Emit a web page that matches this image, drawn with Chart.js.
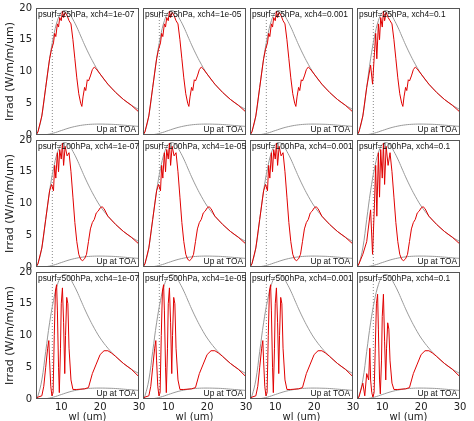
<!DOCTYPE html>
<html><head><meta charset="utf-8">
<script src="https://cdn.jsdelivr.net/npm/chart.js@4"></script>
<style>body{margin:0;background:#fff;width:474px;height:421px;position:relative;overflow:hidden}canvas{position:absolute}</style>
</head><body>
<script>
const pressures = ["25hPa","100hPa","500hPa"];
const xch4 = ["1e-07","1e-05","0.001","0.1"];
const xTicks = [10,20,30];
const yTicks = [0,5,10,15,20];
const cutoffWl = 7.7;
const surfX = [3.5,4,5,6,7,8,9,10,11,12,13,14,15,16,17,18,19,20,22,24,26,28,30];
const surfY = [0,0.5,3,7.5,12,15.5,18,19.3,19.6,19.2,18.2,17,15.6,14.2,12.9,11.7,10.6,9.6,8,6.7,5.6,4.7,4.0];
const toaX = [3.5,6,8,10,12,14,16,18,20,22,24,26,28,30];
const toaY = [0,0.05,0.3,0.7,1.1,1.4,1.6,1.7,1.72,1.7,1.65,1.55,1.45,1.35];
const r1X = [3.5,4,5,6,7,7.5,8,8.3,8.6,9,9.3,9.6,10,10.3,10.6,11,11.5,12,12.5,13,13.5,14,14.5,15,15.3,15.6,16,16.3,16.7,17,17.5,18,18.5,19,20,22,24,26,28,30];
const r1Y = [0,0.5,3,7.5,12,13.5,14.5,16,15.5,17.5,17,18.5,18,19.5,18.5,19.3,18.8,18,17.5,15,12,9,6.5,5,4.5,6,7.5,7,8.7,8.5,9.3,10.3,10.7,10.4,9.6,8,6.7,5.6,4.7,3.6];
const r1Y4 = [0,0.5,3,7.5,11,8,13,16,12,17.5,15,18.5,17,19.5,18,19.3,18.5,18,17.5,15,12,9,6.5,5,4.5,6,7.5,7,8.7,8.5,9.3,10.3,10.7,10.4,9.6,8,6.7,5.6,4.7,3.6];
const r2X = [3.5,4,5,6,7,7.5,8,8.3,8.6,9,9.3,9.6,10,10.3,10.6,11,11.5,12,12.5,13,13.5,14,14.5,15,15.5,16,16.5,17,17.5,18,18.5,19,19.5,20,20.5,21,22,24,26,28,30];
const r2Y = [0,0.5,3,7.5,12,13,12,16,14,18,15,18.5,17,19.5,16,19,17.5,18,15,11,7,4,2,1.2,1,1.3,2,4,6,7,7.5,8.5,8.8,9.3,9.5,9.2,8,6.7,5.6,4.7,3.6];
const r2Y4 = [0,0.5,2,4,9,2,10,16,8,18,11,18.5,14,19.5,13,19,16,18,15,11,7,4,2,1.2,1,1.3,2,4,6,7,7.5,8.5,8.8,9.3,9.5,9.2,8,6.7,5.6,4.7,3.6];
const r3X = [3.5,4,5,5.5,6,6.5,6.8,7,7.3,7.6,7.9,8.2,8.5,8.8,9,9.3,9.5,9.8,10,10.3,10.6,10.9,11.1,11.4,11.7,12,12.5,13,14,16,17,18,19,20,21,22,23,24,26,28,30];
const r3Y = [0,0.3,0.5,2,5,8,9.2,6,2,0.5,1,10,17,18,14,5,1,8,15,17.5,12,4,10,16,15,8,3,1.5,1.5,1.6,1.8,4,5.5,7,7.6,7.6,7.2,6.7,5.6,4.7,3.5];
const r3Y4 = [0,0.3,2.5,0.5,4,3,8,3,1,0.3,1,8,15,16.5,11,3,0.8,6,13,16.5,9,3,8,12,11,6,2.5,1.5,1.5,1.6,1.8,4,5.5,7,7.6,7.6,7.2,6.7,5.6,4.7,3.5];

const rowRed = [[r1X,r1Y,r1Y4],[r2X,r2Y,r2Y4],[r3X,r3Y,r3Y4]];
const lefts=[36,143,250,357], tops=[8,140,272], PW=103, PH=127, AW=36, AH=24, PR=12, PT=8;
const pts=(xs,ys)=>xs.map((x,i)=>({x,y:ys[i]}));
const boxPlugin={id:'box',afterDraw(c){const a=c.chartArea,x=c.ctx;x.save();x.strokeStyle='#555';x.lineWidth=1;x.strokeRect(a.left+0.5,a.top+0.5,a.width-1,a.height-1);
 x.font='8.4px "Liberation Sans", sans-serif';x.fillStyle='#111';x.textBaseline='top';x.textAlign='left';x.fillText(c.options.plugins.box.label,a.left+2,a.top+2);
 x.textAlign='right';x.textBaseline='bottom';x.fillText('Up at TOA',a.right-3,a.bottom-1);x.restore();}};
for(let r=0;r<3;r++)for(let c=0;c<4;c++){
 const cv=document.createElement('canvas');
 cv.width=PW+AW+PR;cv.height=PH+AH+PT;
 cv.style.left=(lefts[c]-AW)+'px';cv.style.top=(tops[r]-PT)+'px';
 document.body.appendChild(cv);
 const [rx,ry,ry4]=rowRed[r];
 new Chart(cv,{type:'line',plugins:[boxPlugin],data:{datasets:[
  {data:pts(rx,c===3?ry4:ry),borderColor:'#e00000',borderWidth:1,pointRadius:0,tension:0},
  {data:pts(surfX,surfY),borderColor:'#999',borderWidth:1,pointRadius:0,tension:0.4},
  {data:pts(toaX,toaY),borderColor:'#999',borderWidth:1,pointRadius:0,tension:0.4},
  {data:[{x:cutoffWl,y:0},{x:cutoffWl,y:20}],borderColor:'#888',borderWidth:1,borderDash:[1,2],pointRadius:0}
 ]},options:{responsive:false,animation:false,clip:true,layout:{padding:{top:PT,right:PR,left:0,bottom:0}},
  plugins:{legend:{display:false},tooltip:{enabled:false},box:{label:'psurf='+pressures[r]+', xch4='+xch4[c]}},
  scales:{
   x:{type:'linear',min:3.5,max:30,afterFit:s=>{s.height=AH;s.paddingLeft=0;s.paddingRight=0;},afterBuildTicks:s=>{s.ticks=xTicks.map(v=>({value:v}))},
     grid:{display:false,drawTicks:false},border:{display:false},
     ticks:{display:r===2,color:'#222',font:{size:10,family:'DejaVu Sans'},padding:2},
     title:{display:r===2,text:'wl (um)',color:'#222',font:{size:10,family:'DejaVu Sans'},padding:{top:0,bottom:0}}},
   y:{min:0,max:20,afterFit:s=>{s.width=AW;s.paddingTop=0;s.paddingBottom=0;},afterBuildTicks:s=>{s.ticks=yTicks.map(v=>({value:v}))},
     grid:{display:false,drawTicks:false},border:{display:false},
     ticks:{display:c===0,color:'#222',font:{size:10,family:'DejaVu Sans'},padding:4},
     title:{display:c===0,text:'Irrad (W/m/m/um)',color:'#222',font:{size:11,family:'DejaVu Sans'},padding:{bottom:0}}}
  }}});
}
</script></body></html>
